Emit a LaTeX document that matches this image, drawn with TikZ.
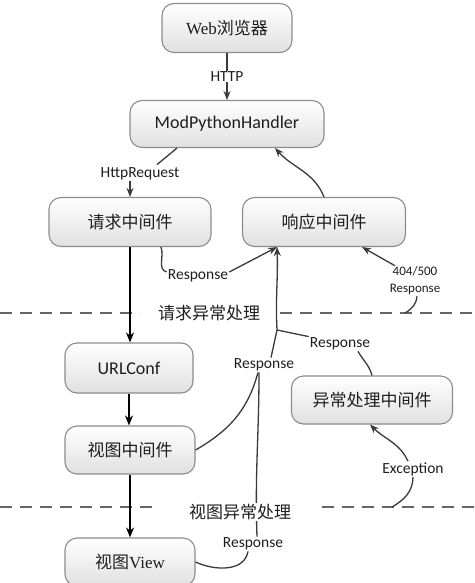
\documentclass[tikz,border=0pt]{standalone}
\usepackage{fontspec}
\setmainfont{Liberation Serif}
\newfontfamily\cjk{Noto Sans CJK SC}
\newfontfamily\calf{Carlito}
\usetikzlibrary{arrows.meta,calc}
\definecolor{bordergray}{HTML}{8C8C8C}
\definecolor{linegray}{HTML}{3A3A3A}
\definecolor{txt}{HTML}{1E1E1E}
\tikzset{
  box/.style={draw=bordergray, line width=1.1pt, rounded corners=12pt,
    top color=white, bottom color=black!12, text=txt, inner sep=0pt},
  boxcjk/.style={box, font=\cjk\fontsize{17}{20}\selectfont},
  boxcal/.style={box, font=\calf\fontsize{18}{21}\selectfont},
  lbl/.style={fill=white, text=txt, inner sep=1pt, font=\calf\fontsize{15.5}{18}\selectfont},
  lblsm/.style={fill=white, text=txt, inner sep=1pt, align=center, font=\calf\fontsize{13}{17}\selectfont},
  sect/.style={fill=white, text=txt, inner sep=1pt, font=\cjk\fontsize{17}{20}\selectfont},
  conn/.style={draw=linegray, line width=1.3pt},
  tip/.style={-{Stealth[length=9pt,width=7pt]}},
  mainarrow/.style={draw=black, line width=1.8pt, -{Stealth[length=10pt,width=8pt]}},
  sepline/.style={draw=black!60, line width=1.8pt, dash pattern=on 12pt off 8pt}
}
\begin{document}
\begin{tikzpicture}[x=1pt,y=1pt]
\useasboundingbox (0,0) rectangle (474,-583);
\fill[white] (0,0) rectangle (474,-583);

% dashed separators
\coordinate (d1a) at (0,-313);
\coordinate (d1b) at (140,-313);
\coordinate (d1c) at (280,-313);
\coordinate (d1d) at (474,-313);
\coordinate (d2a) at (0,-507);
\coordinate (d2b) at (158,-507);
\coordinate (d2c) at (322,-507);
\coordinate (d2d) at (474,-507);
\draw[sepline] (d1a) -- (d1b);
\draw[sepline] (d1c) -- (d1d);
\draw[sepline] (d2a) -- (d2b);
\draw[sepline] (d2c) -- (d2d);

% boxes
\node[boxcjk, minimum width=130pt, minimum height=49pt] (web) at (227,-28) {{\rmfamily Web}浏览器};
\node[boxcal, minimum width=194pt, minimum height=47pt] (mph) at (227,-124) {ModPythonHandler};
\node[boxcjk, minimum width=162pt, minimum height=49pt] (req) at (130,-222) {请求中间件};
\node[boxcjk, minimum width=163pt, minimum height=49pt] (resp) at (324,-222) {响应中间件};
\node[boxcal, minimum width=128pt, minimum height=50pt] (url) at (129,-368) {URLConf};
\node[boxcjk, minimum width=130pt, minimum height=48pt] (vm) at (130,-450) {视图中间件};
\node[boxcjk, minimum width=130pt, minimum height=48pt] (vv) at (130,-562) {视图{\rmfamily View}};
\node[boxcjk, minimum width=161pt, minimum height=48pt] (exc) at (372,-400) {异常处理中间件};

% labels
\node[lbl] (hr) at (140,-174) {HttpRequest};
\node[lbl] (r1) at (198,-276) {Response};
\node[lblsm] (r404) at (415,-281) {404/500\\Response};
\node[lbl] (r2) at (264,-365) {Response};
\node[lbl] (r3) at (340,-344) {Response};
\node[lbl] (r4) at (253,-544) {Response};
\node[lbl] (ex) at (413,-469) {Exception};
\node[sect] (t1) at (209,-313) {请求异常处理};
\node[sect] (t2) at (240,-512) {视图异常处理};

\coordinate (J) at (277,-330);
\coordinate (d404) at (405,-313);
\coordinate (dex) at (392,-507);

% connectors
\draw[conn,tip] (web) -- node[lbl]{HTTP} (mph);
\draw[conn] ($(mph.south)+(-50,0)$) -- ($(hr.north)+(17,2)$);
\draw[conn,tip] (hr.south -| req.north) -- (req.north);
\draw[conn,tip] (resp.north) to[out=112,in=-48] ($(mph.south)+(48,0)$);

\draw[conn] ($(req.south)+(31,0)$) to[out=-70,in=165] ($(r1.west)+(0,4)$);
\draw[conn,tip] ($(r1.east)+(0,4)$) -- ($(resp.south)+(-47,0)$);

\draw[conn,tip] ($(r404.north)+(-20,0)$) -- ($(resp.south)+(38,0)$);
\draw[conn] ($(r404.south)+(2,0)$) to[out=-95,in=30] (d404);

\draw[conn,tip] (J) to[out=93,in=-88] ($(resp.south)+(-47,0)$);
\draw[conn] ($(r2.north)+(7,0)$) -- (J);
\draw[conn] (J) -- (r3.north west);
\draw[conn] ($(r3.south)+(18,0)$) to[out=-60,in=105] (exc.north);
\draw[conn] (vm.east) to[out=30,in=-105] ($(r2.south)+(-6,0)$);
\draw[conn] ($(r4.north)+(4,0)$) to[out=92,in=-90] ($(r2.south)+(-5,0)$);
\draw[conn] (vv.east) to[out=-25,in=-100] ($(r4.south)+(-5,0)$);

\draw[conn,tip] ($(ex.north)+(-5,0)$) to[out=115,in=-45] ($(exc.south)+(-2,0)$);
\draw[conn] (ex.south) to[out=-90,in=30] (dex);

% main flow
\draw[mainarrow] (req.south) -- (req.south |- url.north);
\draw[mainarrow] (url.south) -- (url.south |- vm.north);
\draw[mainarrow] (vm.south) -- (vm.south |- vv.north);

% redraw section labels on top
\node[sect] at (t2) {视图异常处理};
\end{tikzpicture}
\end{document}
